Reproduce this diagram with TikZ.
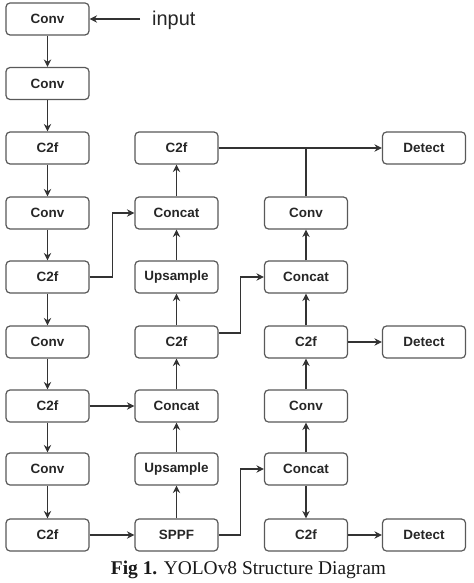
\documentclass[tikz,border=0pt]{standalone}
\usepackage{fontspec}
\setmainfont{Liberation Serif}
\setsansfont{Liberation Sans}
\usetikzlibrary{arrows.meta,calc}
\begin{document}
\begin{tikzpicture}[x=1bp,y=-1bp,
  blk/.style={draw=black!65, line width=1.2bp, rounded corners=4bp,
    minimum width=83bp, minimum height=32bp, inner sep=0pt,
    font=\sffamily\bfseries\fontsize{13.5}{15}\selectfont, text=black!85},
  arr/.style={draw=black!80, line width=1.1bp, -{Stealth[length=7.5bp,width=7.5bp,inset=2.5bp]}},
  ln/.style={draw=black!80, line width=1.1bp}]
\useasboundingbox[fill=white] (0,0) rectangle (474,583);
% column 1
\node[blk] (a1) at (47.5,19) {Conv};
\node[blk] (a2) at (47.5,83.5) {Conv};
\node[blk] (a3) at (47.5,148) {C2f};
\node[blk] (a4) at (47.5,213) {Conv};
\node[blk] (a5) at (47.5,277) {C2f};
\node[blk] (a6) at (47.5,342) {Conv};
\node[blk] (a7) at (47.5,406) {C2f};
\node[blk] (a8) at (47.5,469) {Conv};
\node[blk] (a9) at (47.5,535) {C2f};
% column 2
\node[blk] (b3) at (176.5,148) {C2f};
\node[blk] (b4) at (176.5,213) {Concat};
\node[blk] (b5) at (176.5,277) {Upsample};
\node[blk] (b6) at (176.5,342) {C2f};
\node[blk] (b7) at (176.5,406) {Concat};
\node[blk] (b8) at (176.5,469) {Upsample};
\node[blk] (b9) at (176.5,535) {SPPF};
% column 3
\node[blk] (c4) at (306,213) {Conv};
\node[blk] (c5) at (306,277) {Concat};
\node[blk] (c6) at (306,342) {C2f};
\node[blk] (c7) at (306,406) {Conv};
\node[blk] (c8) at (306,469) {Concat};
\node[blk] (c9) at (306,535) {C2f};
% column 4
\node[blk] (d3) at (424,148) {Detect};
\node[blk] (d6) at (424,342) {Detect};
\node[blk] (d9) at (424,535) {Detect};
% input
\node[font=\sffamily\fontsize{20}{24}\selectfont, anchor=base west, inner sep=0pt, text=black!85] (inp) at (152,26) {input};
\coordinate (inpt) at (140,19);
\draw[arr] (inpt) -- (a1.east);
% caption
\node[font=\fontsize{19.5}{22}\selectfont, text=black!90] (cap) at (248.5,570) {\textbf{Fig 1.} YOLOv8 Structure Diagram};
% backbone
\foreach \u/\v in {a1/a2,a2/a3,a3/a4,a4/a5,a5/a6,a6/a7,a7/a8,a8/a9}
  \draw[arr] (\u) -- (\v);
\draw[arr] (a5.east) -- ++(23,0) |- (b4.west);
\draw[arr] (a7) -- (b7);
\draw[arr] (a9) -- (b9);
% column 2 upward
\foreach \u/\v in {b9/b8,b8/b7,b7/b6,b6/b5,b5/b4,b4/b3}
  \draw[arr] (\u) -- (\v);
\draw[arr] (b9.east) -- ++(22,0) |- (c8.west);
\draw[arr] ($(b6.east)+(0,-9)$) -- ++(22,0) |- (c5.west);
% column 3
\draw[arr] (c8) -- (c9);
\foreach \u/\v in {c8/c7,c7/c6,c6/c5,c5/c4}
  \draw[arr] (\u) -- (\v);
\draw[arr] (b3) -- (d3);
\draw[ln] (c4.north) -- (c4.north |- b3.east);
\draw[arr] (c6) -- (d6);
\draw[arr] (c9) -- (d9);
\end{tikzpicture}
\end{document}
